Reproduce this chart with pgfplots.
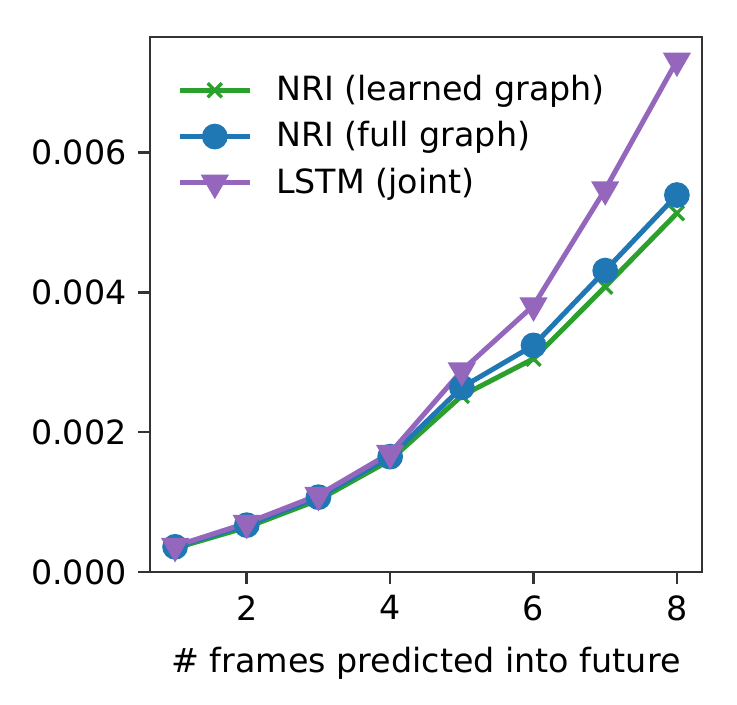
\documentclass[border=0pt]{standalone}
\usepackage{fontspec}
\setmainfont{DejaVu Sans}
\usepackage{pgfplots}
\pgfplotsset{compat=1.18}

\definecolor{mplgreen}{HTML}{2CA02C}
\definecolor{mplblue}{HTML}{1F77B4}
\definecolor{mplpurple}{HTML}{9467BD}

\begin{document}
\begin{tikzpicture}
  \begin{axis}[name=ax,
      scale only axis, width=165.6pt, height=160.5pt,
      xmin=0.65, xmax=8.35, ymin=0, ymax=0.00765,
      xtick={2,4,6,8}, ytick={0,0.002,0.004,0.006},
      xtick pos=left, ytick pos=left,
      tick align=outside, major tick length=3.5pt,
      tick style={black!80, line width=0.8pt},
      axis line style={black!80, line width=0.8pt},
      /pgf/number format/assume math mode=true,
      yticklabel style={/pgf/number format/.cd, fixed, fixed zerofill, precision=3},
      scaled y ticks=false,
      tick label style={font=\fontsize{10}{12}\selectfont},
      xlabel={\# frames predicted into future},
      xlabel style={font=\fontsize{10}{12}\selectfont, yshift=-1pt},
      legend cell align=left,
      legend style={at={(0.03,0.955)}, anchor=north west, draw=none,
        fill=none, font=\fontsize{10}{12}\selectfont, row sep=0.8pt},
      legend image code/.code={
        \draw[mark repeat=2, mark phase=2] plot coordinates {(0cm,0cm) (0.37cm,0cm) (0.74cm,0cm)};
        \path (0.92cm,0cm);},
    ]

    % NRI (learned graph)
    \addplot[mplgreen, line width=1.5pt, mark=x, mark size=3pt,
      mark options={line width=1pt}] coordinates {
      (1,0.00034) (2,0.00064) (3,0.00103) (4,0.00160)
      (5,0.00252) (6,0.00305) (7,0.00408) (8,0.00513)};
    \addlegendentry{NRI (learned graph)}

    % NRI (full graph)
    \addplot[mplblue, line width=1.5pt, mark=*, mark size=3.1pt,
      mark options={fill=mplblue, draw=mplblue}] coordinates {
      (1,0.00036) (2,0.00067) (3,0.00107) (4,0.00165)
      (5,0.00264) (6,0.00324) (7,0.00431) (8,0.00539)};
    \addlegendentry{NRI (full graph)}

    % LSTM (joint)
    \addplot[mplpurple, line width=1.5pt, mark=triangle*, mark size=3.4pt,
      mark options={rotate=180, fill=mplpurple, draw=mplpurple}] coordinates {
      (1,0.00037) (2,0.00070) (3,0.00110) (4,0.00170)
      (5,0.00288) (6,0.00381) (7,0.00547) (8,0.00731)};
    \addlegendentry{LSTM (joint)}

  \end{axis}
  \pgfresetboundingbox
  \path[use as bounding box] ([shift={(-45pt,-39.6pt)}]ax.south west)
    rectangle ([shift={(10.5pt,11.1pt)}]ax.north east);
\end{tikzpicture}
\end{document}
